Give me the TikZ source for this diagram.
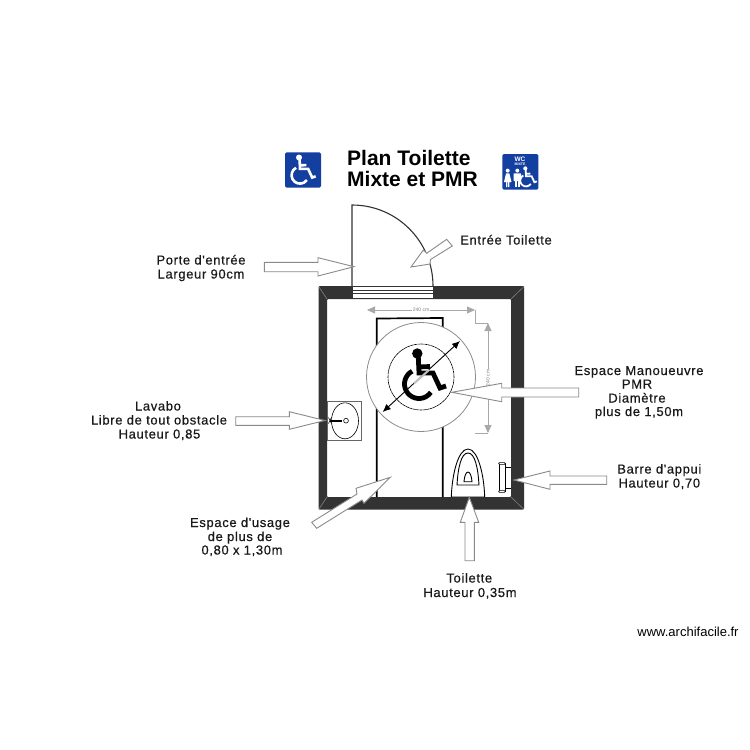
\documentclass[tikz,border=0pt]{standalone}
\usepackage{fontspec}
\usetikzlibrary{arrows.meta}
\setmainfont{Liberation Sans}
\newfontfamily\lblfont[LetterSpace=5,FakeBold=0.45]{Liberation Sans}
\definecolor{wallc}{HTML}{333333}
\definecolor{mitre}{HTML}{808080}
\definecolor{dimc}{HTML}{A8A8A8}
\definecolor{arrowc}{HTML}{8A8A8A}
\definecolor{signc}{HTML}{123FA0}
\tikzset{
  lbl/.style={inner sep=0pt,anchor=base,font=\lblfont\fontsize{13}{14}\selectfont,text=black!90},
  ttl/.style={inner sep=0pt,anchor=base west,font=\bfseries\fontsize{21}{22}\selectfont},
  blockarrow/.style={draw=arrowc,fill=white,line width=0.9pt,line join=miter},
  dimline/.style={draw=dimc,line width=0.9pt},
  dimarrow/.style={dimline,{Triangle[length=8pt,width=7pt]}-{Triangle[length=8pt,width=7pt]}},
  dimtext/.style={inner sep=0.6pt,fill=white,text=black!50,font=\fontsize{5}{6}\selectfont},
  fixture/.style={draw=black,line width=0.9pt,fill=white}
}
\newcommand{\wheelsym}[5]{%
  \begin{scope}[shift={(#1,#2)},scale=#3,line width=#4,draw=#5,line join=miter]
    \fill[#5] (-1.7,-21.5) circle[radius=5.2pt];
    \draw (-0.8,-20) -- (0,-2) -- (14,-2) -- (21,13) -- (27,11);
    \draw (0,-8) -- (11,-8.5);
    \draw ([shift={(118:14.5pt)}]0,9) arc[start angle=118,end angle=325,radius=14.5pt];
  \end{scope}}
\begin{document}
\begin{tikzpicture}[x=1pt,y=-1pt]
\useasboundingbox (0,0) rectangle (750,750);
\fill[white] (0,0) rectangle (750,750);

% title and signs
\node[ttl] (title1) at (347,165) {Plan Toilette};
\node[ttl] (title2) at (347,186) {Mixte et PMR};
\fill[signc,rounded corners=1.5pt] (285,152.3) rectangle (321,187.5);
\wheelsym{300}{170}{0.58}{2.6pt}{white}
\fill[signc,rounded corners=1.5pt] (502.3,154) rectangle (538.3,189.7);
\node[inner sep=0pt,text=white,font=\bfseries\fontsize{6.5}{7}\selectfont] (signwc) at (520,159) {WC};
\node[inner sep=0pt,text=white,font=\bfseries\fontsize{3.6}{4}\selectfont] (signmx) at (520,164.4) {MIXTE};
\fill[white] (507.7,170.6) circle[radius=2pt];
\fill[white] (506,173.4) -- (509.4,173.4) -- (511.5,182) -- (509.4,182) -- (509.4,187) -- (508.1,187) -- (508.1,182) -- (507.4,182) -- (507.4,187) -- (506.1,187) -- (506.1,182) -- (504,182) -- cycle;
\fill[white] (517.3,170.6) circle[radius=2pt];
\fill[white,rounded corners=0.5pt] (513.6,173.3) rectangle (521,181);
\fill[white] (515,180) rectangle (517,187.2);
\fill[white] (517.7,180) rectangle (519.7,187.2);
\wheelsym{526}{177}{0.4}{1.8pt}{white}

% door
\draw[wallc,line width=1.1pt] (352,286) -- (352,205) arc[start angle=90,end angle=0,radius=81pt];

% walls
\fill[wallc,rounded corners=1pt,even odd rule] (318.5,286) rectangle (524,509.5) (327,299) rectangle (511,497);
\draw[mitre,line width=0.6pt] (319,287) -- (327,299) (523.5,287) -- (511,299) (319,509) -- (327,497) (523.5,509) -- (511,497);

% threshold
\fill[white] (352,286) rectangle (433,299);
\draw[wallc,line width=0.9pt] (352,286.5) -- (433,286.5) (352,290) -- (433,290) (352,293.5) -- (433,293.5) (352,298) -- (433,298)
  (352,286) -- (352,299) (433,286) -- (433,299);

% usage space
\draw[black,line width=1.7pt,line join=miter] (376.7,497) -- (376.7,318.5) -- (442.7,318) -- (442.7,497);

% manoeuvre circles
\draw[draw=black!45,fill=white,line width=0.8pt] (421,377) circle[radius=54.5pt];
\draw[black,line width=0.6pt,dash pattern=on 3pt off 0.5pt] (421,377) circle[radius=33pt];
\wheelsym{419}{375}{1}{4.8pt}{black}
\coordinate (diaA) at (382.7,412);
\coordinate (diaB) at (460,341);
\draw[black,line width=0.9pt,{Latex[length=8pt,width=7pt]}-{Latex[length=8pt,width=7pt]}] (diaA) -- (diaB);
\draw[black!25,line width=2pt] (414,383.5) -- (429,370);

% dimensions
\coordinate (dimHa) at (367,310);
\coordinate (dimHb) at (475,310);
\coordinate (dimVa) at (488,323);
\coordinate (dimVb) at (488,433);
\draw[dimarrow] (dimHa) -- (dimHb);
\draw[dimline] (dimHb) -- (475,323) -- (dimVa);
\draw[dimarrow] (dimVa) -- (dimVb);
\draw[dimline] (dimVb) -- (475,433);
\node[dimtext] (dimHt) at (421,310) {240 cm};
\node[dimtext,rotate=90] (dimVt) at (488,378) {240 cm};

% washbasin
\draw[black!60!white,fill=white,line width=0.8pt] (327,401) rectangle (361.7,440);
\draw[black,line width=0.6pt] (345,420.8) ellipse[x radius=13.5pt,y radius=18pt];
\draw[black,line width=0.6pt] (346,420.7) circle[radius=2.4pt];
\draw[black,line width=0.7pt] (330,420) -- (341.5,420) (330,421.6) -- (341.5,421.6);
\draw[black,line width=0.6pt] (328.5,417.5) -- (331.5,423.5) (331.5,417.5) -- (328.5,423.5);

% toilet
\draw[fixture] (451.3,497) .. controls (452,475) and (458,449) .. (468,449) .. controls (478,449) and (484,475) .. (484.7,497) -- cycle;
\draw[fixture] (457,485) .. controls (458,468) and (461,453) .. (468,453) .. controls (475,453) and (478,468) .. (479,485) -- cycle;
\draw[fixture] (464,481.7) .. controls (464.4,476) and (466,472) .. (468,472) .. controls (470,472) and (471.6,476) .. (472,481.7) -- cycle;

% grab bar
\draw[black,line width=0.6pt] (505,467.7) -- (511,467.7) (505,488) -- (511,488);
\draw[fixture,line width=0.6pt] (499,463.5) rectangle (505,491.5);
\draw[fixture,line width=0.6pt,rounded corners=0.8pt] (498.7,462.6) rectangle (505.3,464.4);
\draw[fixture,line width=0.6pt,rounded corners=0.8pt] (498.7,490.6) rectangle (505.3,492.4);

% block arrows
\draw[blockarrow] (264.3,262.3) -- (318,262.3) -- (318,257.7) -- (354,266.7) -- (318,276) -- (318,271.7) -- (264.3,271.7) -- cycle;
\draw[blockarrow] (446.7,239.3) -- (426.8,253.2) -- (423.3,250) -- (411,267) -- (430,264) -- (430.5,259.5) -- (452.3,246) -- cycle;
\draw[blockarrow] (235.7,416.7) -- (289.3,416.7) -- (289.3,411.7) -- (325,420.5) -- (289.3,429.3) -- (289.3,425.3) -- (235.7,425.3) -- cycle;
\draw[blockarrow] (578.7,388) -- (501.7,388) -- (501.7,383.3) -- (451.7,392.3) -- (501.7,401.7) -- (501.7,397) -- (578.7,397) -- cycle;
\draw[blockarrow] (606.7,476) -- (550,476) -- (550,471) -- (514,480) -- (550,489.3) -- (550,484.3) -- (606.7,484.3) -- cycle;
\draw[blockarrow] (465,560.7) -- (465,522.3) -- (460.3,522.3) -- (469.3,497.3) -- (478.7,522.3) -- (474.3,522.3) -- (474.3,560.7) -- cycle;
\draw[blockarrow] (311.7,522.3) -- (357,494) -- (356,488.3) -- (390.3,477.3) -- (364,503.3) -- (362,500) -- (316.7,528.3) -- cycle;

% labels
\node[lbl] (porteA) at (201,264.5) {Porte d'entrée};
\node[lbl] (porteB) at (201,278.5) {Largeur 90cm};
\node[lbl] (entree) at (506,244.5) {Entrée Toilette};
\node[lbl] (lavA) at (158,410.5) {Lavabo};
\node[lbl] (lavB) at (159,424.5) {Libre de tout obstacle};
\node[lbl] (lavC) at (159.5,438.5) {Hauteur 0,85};
\node[lbl] (manA) at (639,375) {Espace Manoueuvre};
\node[lbl] (manB) at (637,388.5) {PMR};
\node[lbl] (manC) at (637,402.5) {Diamètre};
\node[lbl] (manD) at (639,416) {plus de 1,50m};
\node[lbl] (barA) at (659.3,473.5) {Barre d'appui};
\node[lbl] (barB) at (659.3,487.5) {Hauteur 0,70};
\node[lbl] (useA) at (240,527) {Espace d'usage};
\node[lbl] (useB) at (240,541) {de plus de};
\node[lbl] (useC) at (242,554.5) {0,80 x 1,30m};
\node[lbl] (toiA) at (469.3,582.5) {Toilette};
\node[lbl] (toiB) at (470,597) {Hauteur 0,35m};
\node[inner sep=0pt,anchor=base,font=\fontsize{13}{14}\selectfont] (site) at (688,636) {www.archifacile.fr};
\end{tikzpicture}
\end{document}
